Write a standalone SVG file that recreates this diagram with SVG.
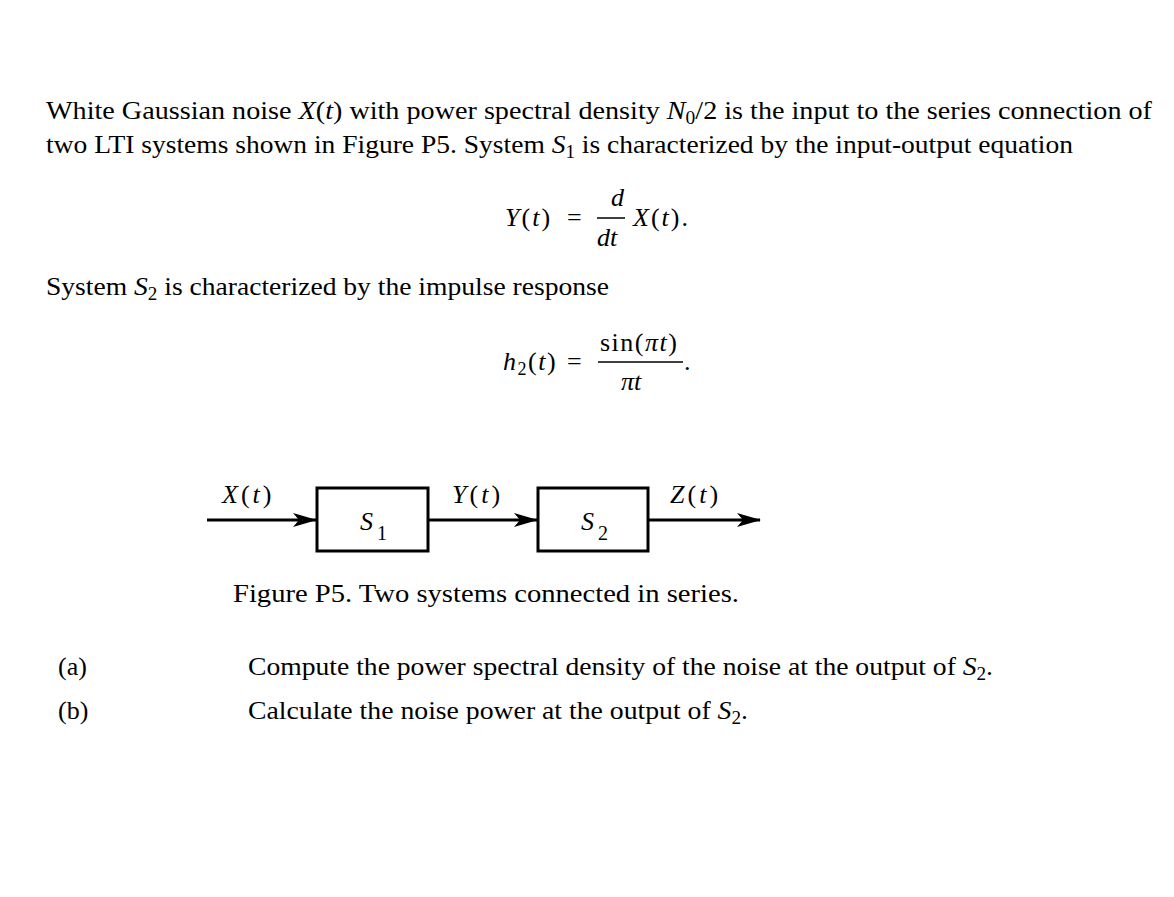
<svg xmlns="http://www.w3.org/2000/svg" width="1174" height="897" viewBox="0 0 1174 897">
<style>
text{font-family:"Liberation Serif",serif;font-size:26px;fill:#000}
.i{font-style:italic}
.box{fill:none;stroke:#000;stroke-width:3}
.w{stroke:#000;stroke-width:3;fill:none}
</style>
<defs><marker id="a" markerWidth="24" markerHeight="14" refX="23" refY="7" orient="auto" markerUnits="userSpaceOnUse"><path d="M0,0 L24,7 L0,14 L6,7z" fill="#000"/></marker></defs>
<rect width="1174" height="897" fill="#fff"/>
<text x="46" y="119" textLength="1106" lengthAdjust="spacingAndGlyphs">White Gaussian noise <tspan class="i">X</tspan>(<tspan class="i">t</tspan>) with power spectral density <tspan class="i">N</tspan><tspan font-size="18" dy="5">0</tspan><tspan dy="-5">/2 is the input to the series connection of</tspan></text>
<text x="46" y="153" textLength="1027" lengthAdjust="spacingAndGlyphs">two LTI systems shown in Figure P5. System <tspan class="i">S</tspan><tspan font-size="18" dy="5">1</tspan><tspan dy="-5"> is characterized by the input-output equation</tspan></text>
<text x="505" y="226" letter-spacing="2"><tspan class="i">Y</tspan>(<tspan class="i">t</tspan>)</text>
<text x="567" y="226">=</text>
<text x="611" y="206" class="i">d</text>
<line x1="597" y1="218" x2="625" y2="218" stroke="#000" stroke-width="1.5"/>
<text x="597" y="246" class="i">dt</text>
<text x="633" y="226" letter-spacing="2"><tspan class="i">X</tspan>(<tspan class="i">t</tspan>).</text>
<text x="46" y="295" textLength="563" lengthAdjust="spacingAndGlyphs">System <tspan class="i">S</tspan><tspan font-size="18" dy="5">2</tspan><tspan dy="-5"> is characterized by the impulse response</tspan></text>
<text x="503" y="370" letter-spacing="1.5"><tspan class="i">h</tspan><tspan font-size="18" dy="5">2</tspan><tspan dy="-5">(</tspan><tspan class="i">t</tspan>)</text>
<text x="567" y="370">=</text>
<text x="600" y="351" letter-spacing="1.5">sin(<tspan class="i">πt</tspan>)</text>
<line x1="598" y1="362" x2="683" y2="362" stroke="#000" stroke-width="1.5"/>
<text x="621" y="390" class="i">πt</text>
<text x="684" y="370">.</text>
<g id="connectors">
<line class="w" x1="207" y1="520" x2="316" y2="520" marker-end="url(#a)"/>
<line class="w" x1="428" y1="520" x2="537" y2="520" marker-end="url(#a)"/>
<line class="w" x1="648" y1="520" x2="760" y2="520" marker-end="url(#a)"/>
<text x="222" y="503" letter-spacing="3"><tspan class="i">X</tspan>(<tspan class="i">t</tspan>)</text>
<text x="452" y="503" letter-spacing="3"><tspan class="i">Y</tspan>(<tspan class="i">t</tspan>)</text>
<text x="670" y="503" letter-spacing="3"><tspan class="i">Z</tspan>(<tspan class="i">t</tspan>)</text>
</g>
<g id="S1"><rect class="box" x="317" y="488" width="111" height="63"/><text x="360" y="530"><tspan class="i">S</tspan><tspan font-size="20" dy="10" dx="4">1</tspan></text></g>
<g id="S2"><rect class="box" x="538" y="488" width="110" height="63"/><text x="581" y="530"><tspan class="i">S</tspan><tspan font-size="20" dy="10" dx="4">2</tspan></text></g>
<text x="233" y="602" textLength="506" lengthAdjust="spacingAndGlyphs">Figure P5.  Two systems connected in series.</text>
<text x="58" y="675">(a)</text>
<text x="248" y="675" textLength="745" lengthAdjust="spacingAndGlyphs">Compute the power spectral density of the noise at the output of <tspan class="i">S</tspan><tspan font-size="18" dy="5">2</tspan><tspan dy="-5">.</tspan></text>
<text x="58" y="719">(b)</text>
<text x="248" y="719" textLength="500" lengthAdjust="spacingAndGlyphs">Calculate the noise power at the output of <tspan class="i">S</tspan><tspan font-size="18" dy="5">2</tspan><tspan dy="-5">.</tspan></text>
</svg>
